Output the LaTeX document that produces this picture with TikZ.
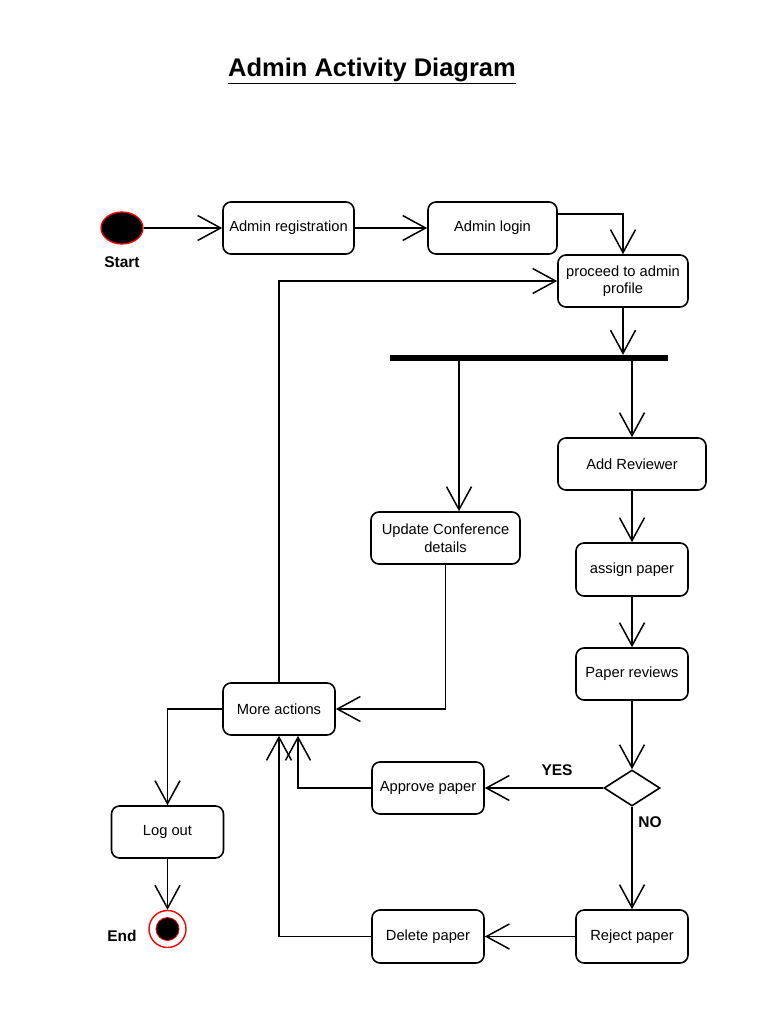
\documentclass[tikz,border=0pt]{standalone}
\usepackage{fontspec}
\setmainfont{Liberation Sans}
\usetikzlibrary{arrows.meta,shapes.geometric}
\begin{document}
\begin{tikzpicture}[x=1pt,y=-1pt,
  box/.style={draw, line width=1.6pt, rounded corners=8pt, align=center, inner sep=0pt,
    font=\fontsize{14.7}{17.5}\selectfont},
  arr/.style={line width=1.5pt, -{Straight Barb[length=23pt,width=25pt,line width=1.5pt]}},
  ln/.style={line width=1.5pt},
  lbl/.style={font=\fontsize{15.5}{18}\selectfont\bfseries}]
\useasboundingbox (0,0) rectangle (768,1024);
% title
\node (title) at (372,71) {\fontsize{25.5}{30}\selectfont\bfseries\underline{Admin Activity Diagram}};
% nodes
\node[ellipse, draw=red, fill=black, line width=1.3pt, minimum width=42, minimum height=32, inner sep=0] (start) at (122,228) {};
\node[lbl] (startl) at (122,262) {Start};
\node[box, minimum width=131, minimum height=52] (reg) at (288.5,228) {Admin registration};
\node[box, minimum width=129, minimum height=52] (login) at (492.5,228) {Admin login};
\node[box, minimum width=130, minimum height=52] (prof) at (623,281) {proceed to admin\\profile};
\node[fill=black, minimum width=278, minimum height=6, inner sep=0] (bar) at (529,358) {};
\node[box, minimum width=148, minimum height=52] (rev) at (632,464) {Add Reviewer};
\node[box, minimum width=149, minimum height=52] (upd) at (445.5,538) {Update Conference\\details};
\node[box, minimum width=112, minimum height=53] (asg) at (632,569.5) {assign paper};
\node[box, minimum width=112, minimum height=52] (prv) at (632,674) {Paper reviews};
\node[diamond, draw, line width=1.6pt, minimum width=56, minimum height=36, aspect=1.55, inner sep=0] (dia) at (632,788) {};
\node[box, minimum width=112, minimum height=52] (app) at (428,788) {Approve paper};
\node[box, minimum width=112, minimum height=53] (rej) at (632,936.5) {Reject paper};
\node[box, minimum width=112, minimum height=53] (del) at (428,936.5) {Delete paper};
\node[box, minimum width=112, minimum height=52] (more) at (279,709) {More actions};
\node[box, minimum width=112, minimum height=52] (logout) at (167.5,832) {Log out};
\node[circle, draw=red, line width=1.4pt, minimum size=37, inner sep=0] (end) at (167.5,929) {};
\node[circle, draw=red, fill=black, line width=0.8pt, minimum size=23, inner sep=0] (endin) at (167.5,929) {};
\node[lbl] (endl) at (122,936) {End};
\node[lbl] (yes) at (557,770) {YES};
\node[lbl] (no) at (650,822) {NO};
% connectors
\coordinate (lgout) at (557,214);
\coordinate (updx) at (459,0);
\coordinate (appx) at (298,0);
\draw[arr] (start) -- (reg);
\draw[arr] (reg) -- (login);
\draw[arr] (lgout) -| (prof.north);
\draw[arr] (prof.south) -- (prof.south |- bar.north);
\draw[arr] (bar.south -| rev.north) -- (rev.north);
\draw[arr] (bar.south -| updx) -- (upd.north -| updx);
\draw[arr] (rev) -- (asg);
\draw[arr] (asg) -- (prv);
\draw[arr] (prv) -- (dia.north);
\draw[arr] (dia.west) -- (app.east);
\draw[arr] (dia.south) -- (rej.north);
\draw[arr] (rej) -- (del);
\draw[arr] (del.west) -| (more.south);
\draw[arr] (app.west) -| (more.south -| appx);
\draw[arr] (upd.south) |- (more.east);
\draw[arr] (more.north) |- (prof.west);
\draw[arr] (more.west) -| (logout.north);
\draw[arr] (logout.south) -- (end.north);
\end{tikzpicture}
\end{document}
